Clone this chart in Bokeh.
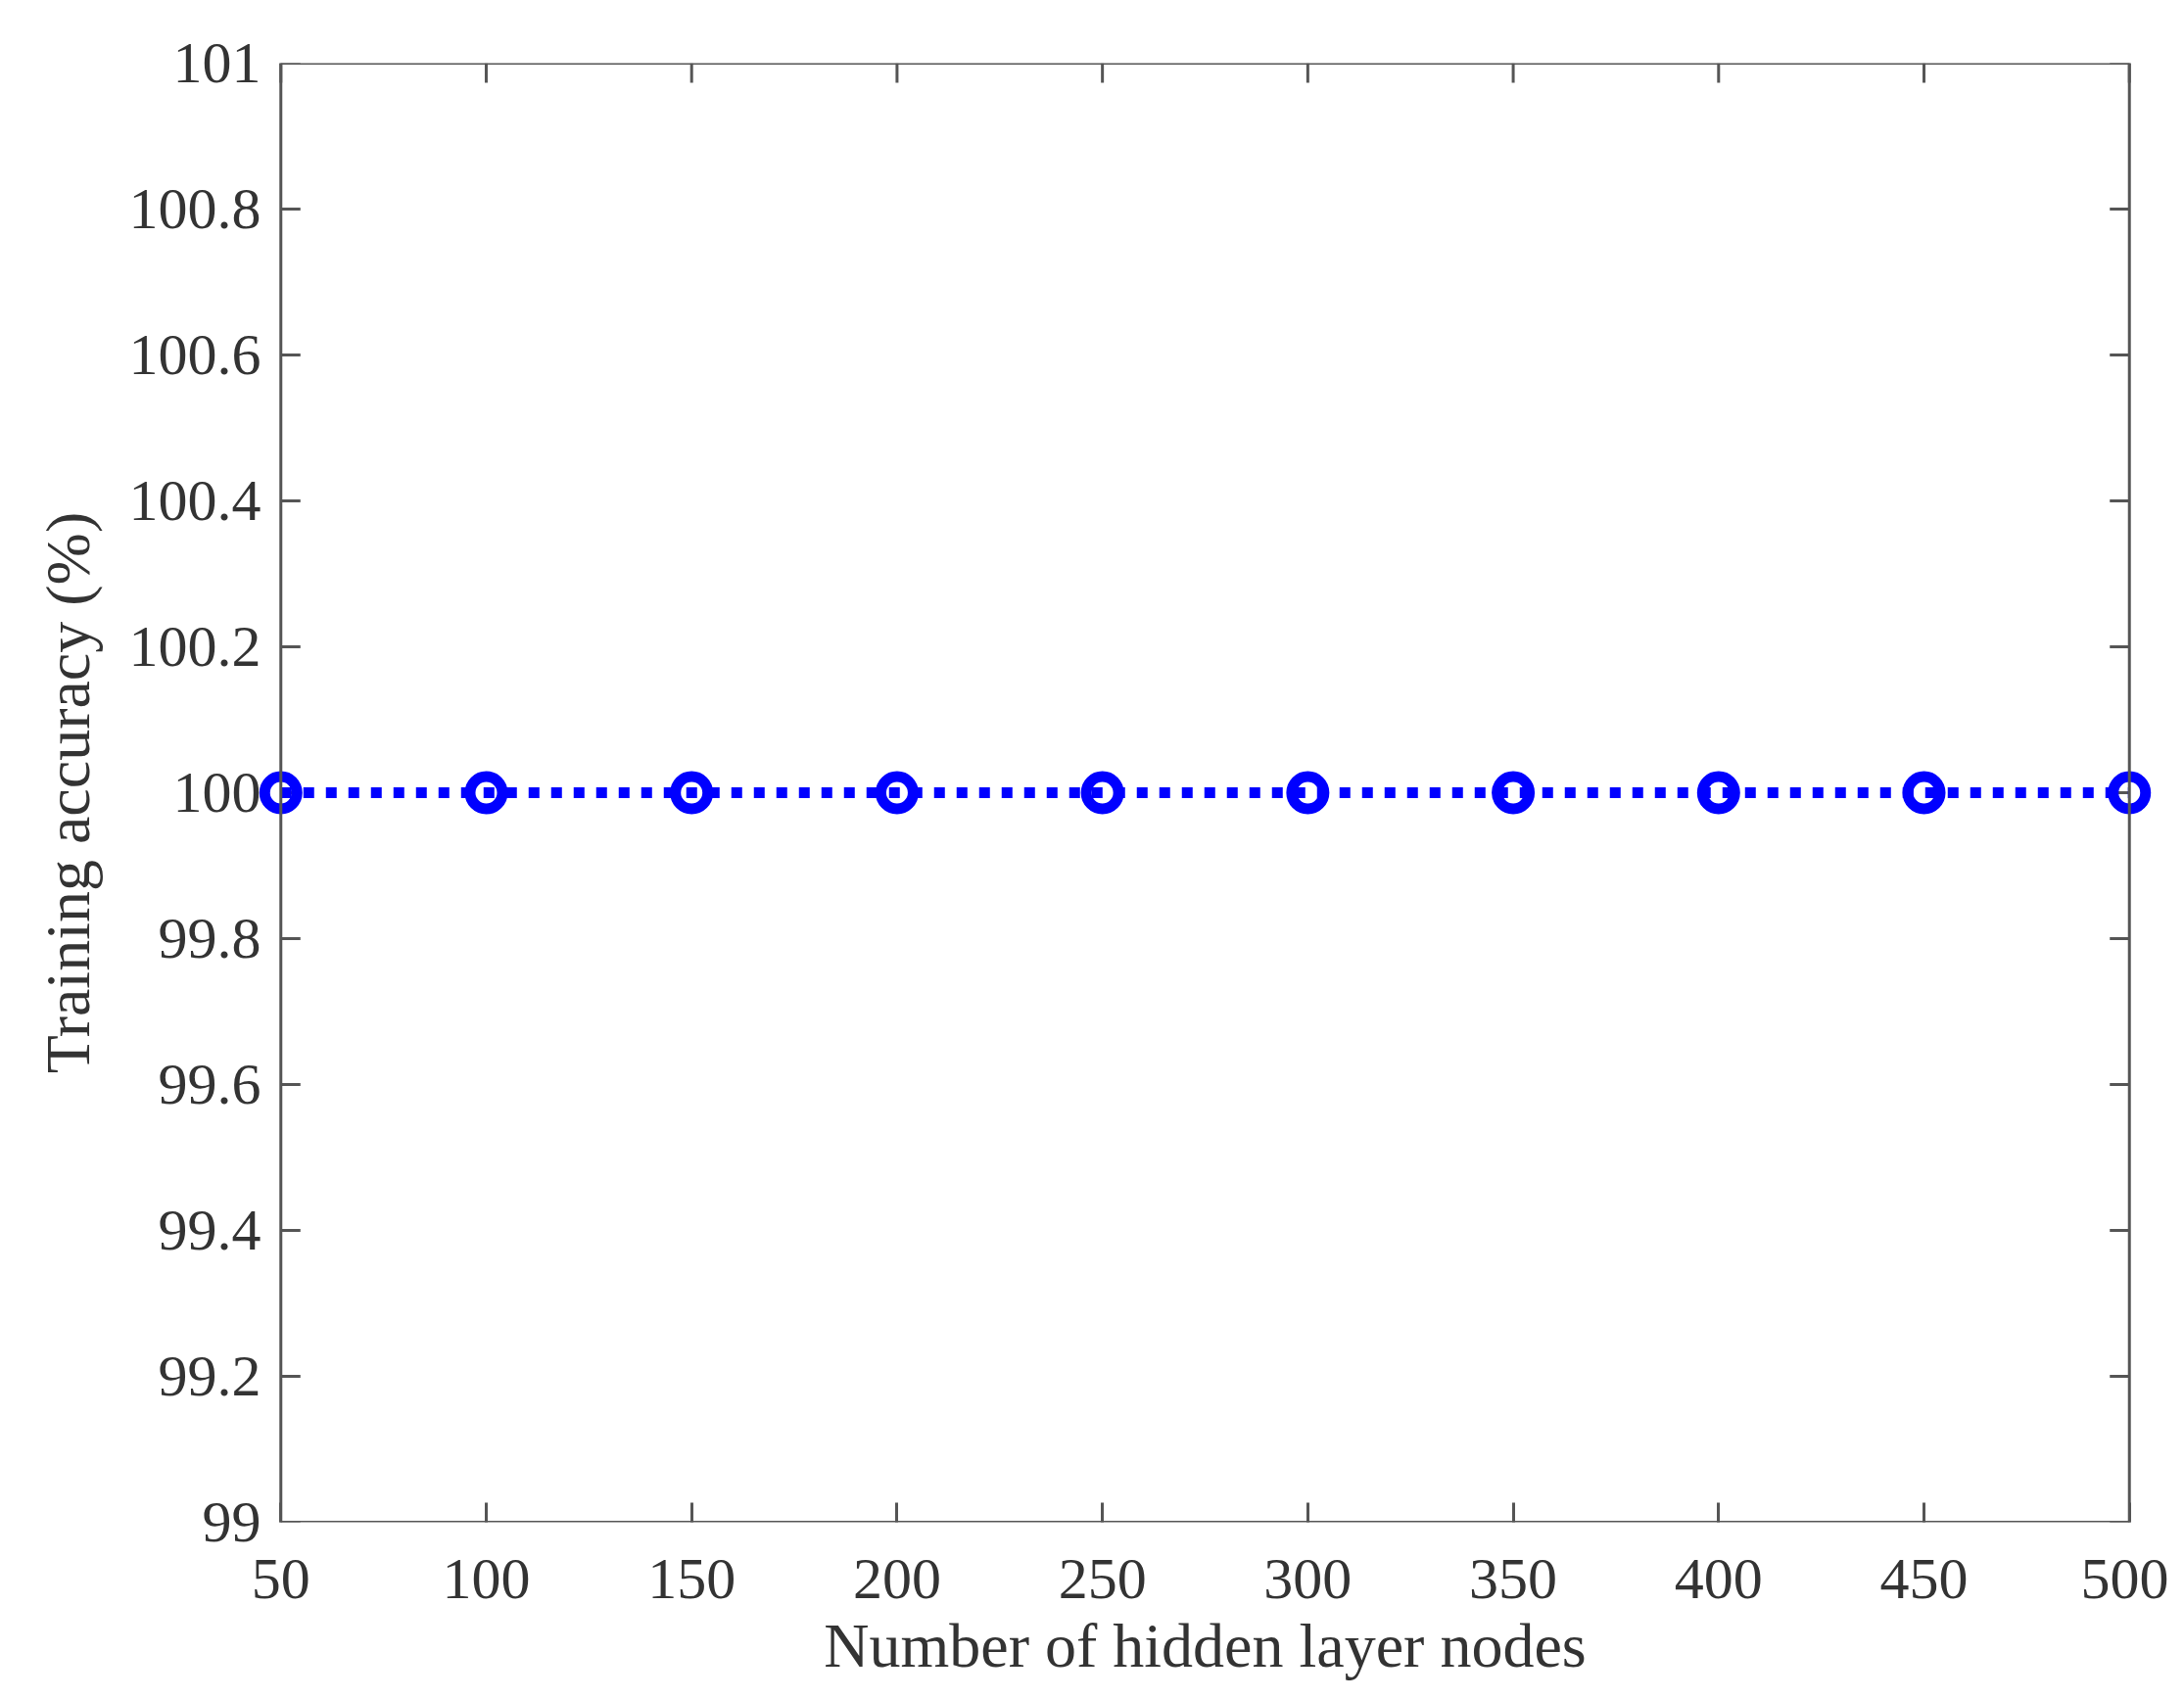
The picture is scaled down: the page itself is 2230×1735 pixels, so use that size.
import math
from bokeh.plotting import figure
from bokeh.models import Range1d, FixedTicker, BoxAnnotation
from bokeh.embed import file_html
from bokeh.resources import INLINE

# data
nodes = [50, 100, 150, 200, 250, 300, 350, 400, 450, 500]
accuracy = [100, 100, 100, 100, 100, 100, 100, 100, 100, 100]
x_ticks = [50, 100, 150, 200, 250, 300, 350, 400, 450, 500]
y_ticks = [99, 99.2, 99.4, 99.6, 99.8, 100, 100.2, 100.4, 100.6, 100.8, 101]
y_tick_labels = ["99", "99.2", "99.4", "99.6", "99.8", "100", "100.2", "100.4", "100.6", "100.8", "101"]
x_lo, x_hi = 50, 500
y_lo, y_hi = 99, 101
x_pad = 6.5  # room so that the edge markers are not cut by the frame

FONT = "Liberation Serif"
AXC = "#555555"
TXC = "#333333"
TICK = 20

p = figure(width=2214, height=1719, output_backend="svg", toolbar_location=None,
           x_range=Range1d(x_lo - x_pad, x_hi + x_pad), y_range=Range1d(y_lo, y_hi),
           min_border_left=259, min_border_top=64, min_border_right=13, min_border_bottom=165)
p.grid.visible = False
p.outline_line_color = None

def style(ax):
    ax.axis_line_color = None
    ax.major_tick_in = TICK
    ax.major_tick_out = 0
    ax.minor_tick_line_color = None
    ax.major_tick_line_color = AXC
    ax.major_tick_line_width = 3
    ax.major_label_text_font = FONT
    ax.major_label_text_color = TXC
    ax.major_label_text_font_size = "60px"
    ax.axis_label_text_font = FONT
    ax.axis_label_text_color = TXC
    ax.axis_label_text_font_size = "64px"
    ax.axis_label_text_font_style = "normal"

p.xaxis.ticker = FixedTicker(ticks=x_ticks)
p.yaxis.ticker = FixedTicker(ticks=y_ticks)
p.yaxis.major_label_overrides = {t: l for t, l in zip(y_ticks, y_tick_labels)}
style(p.xaxis[0])
style(p.yaxis[0])
p.yaxis.major_tick_line_color = None
p.yaxis.major_tick_in = 0
p.xaxis.axis_label = "Number of hidden layer nodes"
p.yaxis.axis_label = "Training accuracy (%)"
p.xaxis.major_label_standoff = 38
p.yaxis.major_label_standoff = -7
p.xaxis.axis_label_standoff = 10
p.yaxis.axis_label_standoff = 24

# frame box
p.add_layout(BoxAnnotation(left=x_lo, right=x_hi, bottom=y_lo, top=y_hi,
                           fill_alpha=0, line_color=AXC, line_alpha=1, line_width=3))
# ticks on top, left and right
p.ray(x=x_ticks, y=[y_hi] * len(x_ticks), length=TICK, length_units="screen",
      angle=-math.pi / 2, line_color=AXC, line_width=3)
p.ray(x=[x_lo] * len(y_ticks), y=y_ticks, length=TICK, length_units="screen",
      angle=0, line_color=AXC, line_width=3)
p.ray(x=[x_hi] * len(y_ticks), y=y_ticks, length=TICK, length_units="screen",
      angle=math.pi, line_color=AXC, line_width=3)

p.line(nodes, accuracy, line_color="#0000ff", line_width=11, line_dash="11 12")
p.scatter(nodes, accuracy, marker="circle", size=33, line_color="#0000ff",
          line_width=11, fill_color=None)

open("out.html", "w").write(file_html(p, INLINE))
